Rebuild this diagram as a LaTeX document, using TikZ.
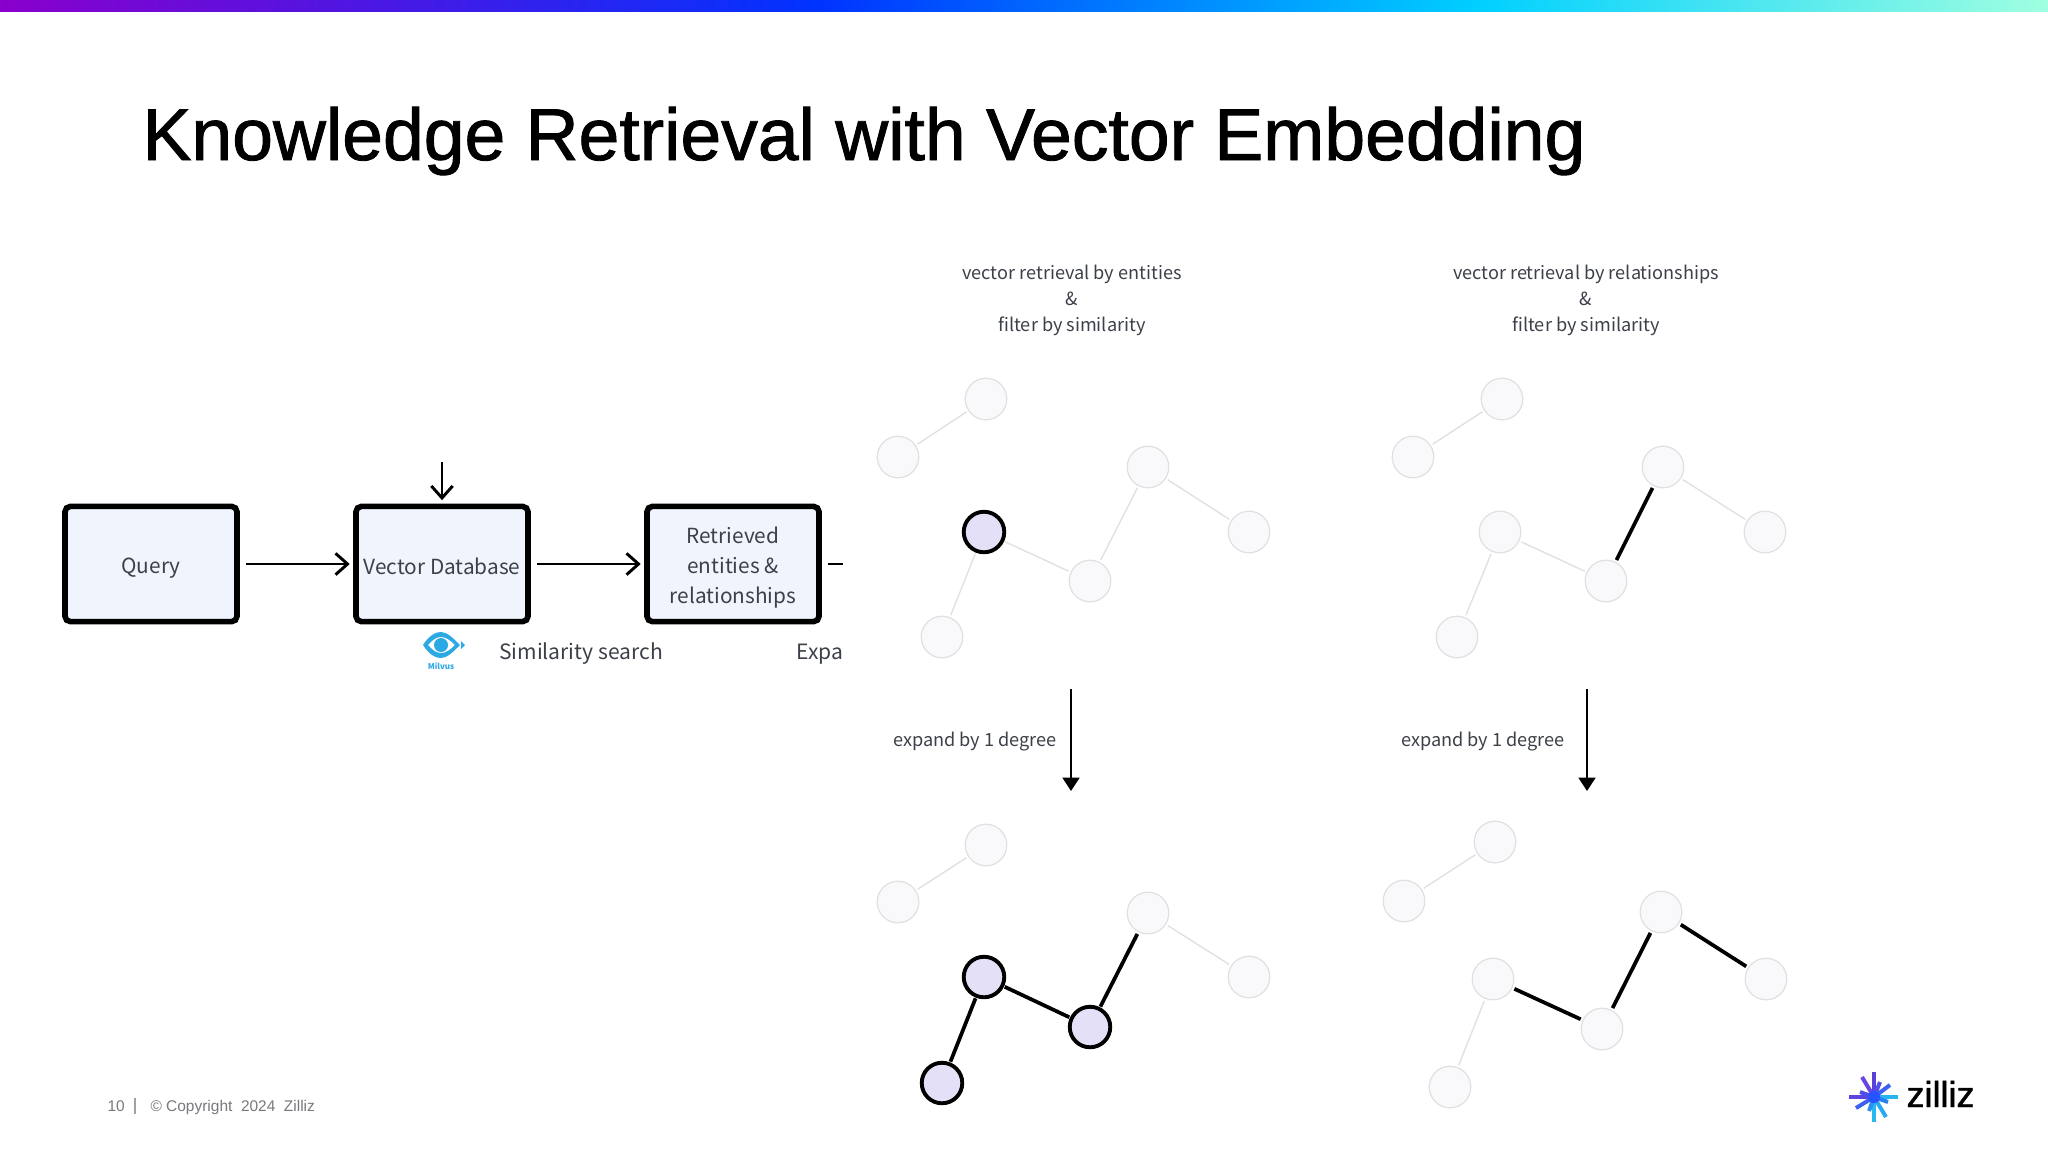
\documentclass[tikz,border=0pt]{standalone}
\usepackage{fontspec}
\setmainfont{Liberation Sans}
\newfontfamily\figfont{Noto Sans CJK SC}
\newfontfamily\slidefont[FakeBold=1.2]{Liberation Sans}
\usepackage{xcolor}
\usetikzlibrary{positioning,calc,arrows.meta}
\definecolor{barp}{HTML}{8A00CC}
\definecolor{barb}{HTML}{0033FF}
\definecolor{barc}{HTML}{00D0FF}
\definecolor{barm}{HTML}{A0FFE0}
\definecolor{boxc}{HTML}{F0F4FC}
\definecolor{nodec}{HTML}{F9F9FC}
\definecolor{hitc}{HTML}{E4E0F8}
\definecolor{edgec}{HTML}{E0E0E0}
\definecolor{labc}{HTML}{3C4048}
\definecolor{milc}{HTML}{2CA8E4}
\definecolor{footc}{HTML}{77797D}
\newcommand{\lowered}[2][1.2pt]{\raisebox{-#1}[\height][\depth]{#2}}
\tikzset{
  flowbox/.style={draw=black, line width=2.1pt, fill=boxc, rounded corners=2pt, inner sep=0pt,
    minimum width=64.5pt, minimum height=43.2pt, font=\figfont\fontsize{7.8}{11.25}\selectfont, text=labc, align=center},
  flowarrow/.style={draw=black, line width=1.1pt, shorten >=1.3pt, -{Straight Barb[length=4.5pt,width=8pt]}},
  gnode/.style={circle, draw=edgec, line width=.45pt, fill=nodec, minimum size=15.6pt, inner sep=0pt, outer sep=1pt},
  hitnode/.style={circle, draw=black, line width=1.45pt, fill=hitc, minimum size=15.2pt, inner sep=0pt, outer sep=1pt},
  gedge/.style={draw=edgec, line width=.5pt},
  hitedge/.style={draw=black, line width=1.4pt},
  caption/.style={font=\figfont\fontsize{6.8}{9.75}\selectfont, text=labc, align=center, inner sep=0pt},
  downarrow/.style={draw=black, line width=.8pt, -{Triangle[length=5pt,width=6.3pt]}},
  spoke/.style={line width=1.5pt},
  footer/.style={font=\fontsize{5.8}{6}\selectfont, text=footc, inner sep=0pt}
}
\newcommand{\graphrow}[8]{%
  \node[gnode] (#1a) at (#2) {};
  \node[gnode] (#1b) at (#3) {};
  \node[gnode] (#1c) at (#4) {};
  \node[gnode] (#1d) at (#5) {};
  \node[gnode] (#1e) at (#6) {};
  \node[gnode] (#1f) at (#7) {};
  \node[gnode] (#1g) at (#8) {};
  \draw[gedge] (#1b) -- (#1a);}
\begin{document}
\begin{tikzpicture}[x=0.375pt, y=-0.375pt]
  \useasboundingbox (0,0) rectangle (2048,1152);
  \fill[white] (0,0) rectangle (2048,1152);
  % top bar
  \shade[left color=barp, right color=barb] (0,0) rectangle (820,11);
  \shade[left color=barb, right color=barc] (820,0) rectangle (1480,11);
  \shade[left color=barc, right color=barm] (1480,0) rectangle (2048,11);
  \node[anchor=base west, inner sep=0pt, font=\slidefont\fontsize{27.5}{30}\selectfont, text=black] (title) at (142,160) {Knowledge Retrieval with Vector Embedding};
  % flow on the left
  \node[flowbox] (query) at (151,564) {\lowered[1.6pt]{Query}};
  \node[flowbox] (vdb) at (442,564) {\lowered[.8pt]{Vector Database}};
  \node[flowbox] (retr) at (733,564) {\lowered{Retrieved}\\\lowered{entities \&}\\\lowered{relationships}};
  \coordinate (vdbtop) at (442,462);
  \coordinate (dashl) at (828,564);
  \coordinate (dashr) at (843,564);
  \draw[flowarrow] (vdbtop) -- (vdb.north);
  \draw[flowarrow] ([xshift=2.4pt]query.east) -- (vdb.west);
  \draw[flowarrow] ([xshift=2.4pt]vdb.east) -- (retr.west);
  \draw[black, line width=1.1pt] (dashl) -- (dashr);
  % milvus logo
  \fill[milc, even odd rule] (423,645) .. controls (430,634) and (437,632) .. (441,632) .. controls (447,632) and (453,638) .. (460,645) .. controls (453,652) and (447,658) .. (441,658) .. controls (437,658) and (430,656) .. (423,645) -- cycle
    (428,645) .. controls (433,639) and (437,637) .. (441,637) .. controls (446,637) and (450,640) .. (455,645) .. controls (450,650) and (446,653) .. (441,653) .. controls (437,653) and (433,651) .. (428,645) -- cycle;
  \fill[milc] (441,645) circle (7);
  \fill[milc] (461,641) -- (465,645) -- (461,649) -- cycle;
  \node[font=\figfont\bfseries\fontsize{3}{4}\selectfont, text=milc, inner sep=0pt] (mil) at (441,666) {Milvus};
  \node[font=\figfont\fontsize{7.9}{10}\selectfont, text=labc, inner sep=0pt] (sim) at (581,654) {Similarity search};
  \node[font=\figfont\fontsize{7.9}{10}\selectfont, text=labc, inner sep=0pt, anchor=west] (expa) at (796,654) {Expa};
  % top left graph
  \graphrow{p}{986,399}{898,457}{1148,467}{1249,532}{984,532}{1090,581}{942,637}
  \node[hitnode] (pe) at (984,532) {};
  \draw[gedge] (pe) -- (pf); \draw[gedge] (pf) -- (pc); \draw[gedge] (pc) -- (pd); \draw[gedge] (pe) -- (pg);
  % top right graph
  \graphrow{q}{1502,399}{1413,457}{1663,467}{1765,532}{1500,532}{1606,581}{1457,637}
  \draw[gedge] (qe) -- (qf); \draw[gedge] (qc) -- (qd); \draw[gedge] (qe) -- (qg);
  \draw[hitedge] (qf) -- (qc);
  % bottom left graph
  \graphrow{r}{986,845}{898,902}{1148,913}{1249,977}{984,977}{1090,1027}{942,1083}
  \node[hitnode] (re) at (984,977) {};
  \node[hitnode] (rf) at (1090,1027) {};
  \node[hitnode] (rg) at (942,1083) {};
  \draw[gedge] (rc) -- (rd);
  \draw[hitedge] (re) -- (rf); \draw[hitedge] (rf) -- (rc); \draw[hitedge] (re) -- (rg);
  % bottom right graph
  \graphrow{s}{1495,842}{1404,901}{1661,912}{1766,979}{1493,979}{1602,1029}{1450,1087}
  \draw[gedge] (se) -- (sg);
  \draw[hitedge] (se) -- (sf); \draw[hitedge] (sf) -- (sc); \draw[hitedge] (sc) -- (sd);
  % captions
  \node[caption] (cap1) at (1072,300) {vector retrieval by entities\\\&\\filter by similarity};
  \node[caption] (cap2) at (1586,300) {vector retrieval by relationships\\\&\\filter by similarity};
  \node[caption] (exp1) at (975,742) {expand by 1 degree};
  \node[caption] (exp2) at (1483,742) {expand by 1 degree};
  \coordinate (a1) at (1071,689); \coordinate (b1) at (1071,791);
  \coordinate (a2) at (1587,689); \coordinate (b2) at (1587,791);
  \draw[downarrow] (a1) -- (b1);
  \draw[downarrow] (a2) -- (b2);
  % footer
  \node[footer, anchor=base west] (pgnum) at (107,1111) {10};
  \node[footer, anchor=base west] (copy) at (150,1111) {© Copyright\ \ 2024\ \ Zilliz};
  \draw[footc!70, line width=.4pt] (135,1098) -- (135,1114);
  % logo
  \coordinate (lc) at (1874,1097);
  \foreach \a/\b/\c in {1874/1072/5A3FD8,1862/1077/6A45E0,1849/1097/5A45E0,1898/1097/28B4F0,1874/1122/28B8F0,1886/1117/28A8F0,1856/1108/3C60F0,1890/1085/3C60F0,1880/1082/5050E8,1860/1092/5050E8,1888/1102/2A80F0,1869/1111/2A90F0}{
    \definecolor{sc}{HTML}{\c}
    \draw[sc, spoke] (lc) -- (\a,\b);}
  \fill[barb!85!white] (lc) circle (6);
  \node[anchor=base west, inner sep=0pt, font=\slidefont\fontsize{13.5}{16}\selectfont, text=black] (zl) at (1906,1107) {zilliz};
\end{tikzpicture}
\end{document}
